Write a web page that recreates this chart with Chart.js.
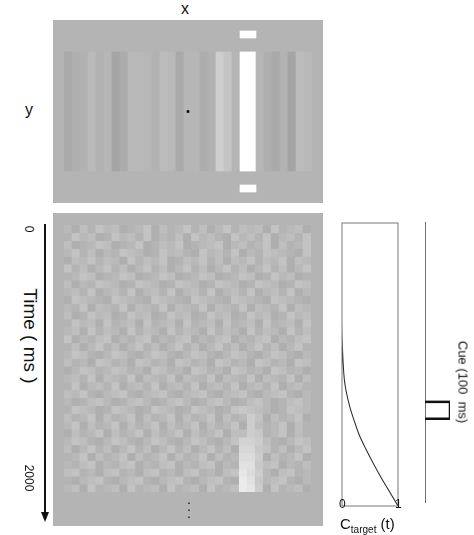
<!DOCTYPE html>
<html><head><meta charset="utf-8">
<script src="https://cdn.jsdelivr.net/npm/chart.js@4"></script>
<style>
body{margin:0;width:474px;height:535px;background:#fff;position:relative;overflow:hidden;font-family:"Liberation Sans",Arial,sans-serif;color:#111}
canvas{position:absolute}
.t{position:absolute;white-space:nowrap}
.rot{transform:translate(-50%,-50%) rotate(90deg)}
</style></head><body>
<canvas id="top" style="left:53px;top:20px;width:270px;height:183px"></canvas>
<canvas id="noise" style="left:53px;top:213px;width:270px;height:313px"></canvas>
<canvas id="curve" style="left:320px;top:213px;width:100px;height:325px"></canvas>
<canvas id="cue" style="left:410px;top:213px;width:50px;height:325px"></canvas>
<div class="t" style="left:181px;top:0;font-size:16px">x</div>
<div class="t" style="left:25px;top:101px;font-size:16px">y</div>
<div class="t" style="left:187px;top:496px;font-size:14px;line-height:7px">.<br>.<br>.</div>
<div class="t rot" style="left:29px;top:229px;font-size:12px">0</div>
<div class="t rot" style="left:29px;top:478px;font-size:12px">2000</div>
<div class="t rot" style="left:30px;top:336px;font-size:19px">Time ( ms )</div>
<div style="position:absolute;left:44px;top:224px;width:1.5px;height:290px;background:#111"></div>
<div style="position:absolute;left:41px;top:512px;width:0;height:0;border-left:4px solid transparent;border-right:4px solid transparent;border-top:10px solid #111"></div>
<div class="t" style="left:339px;top:497px;font-size:12px">0</div>
<div class="t" style="left:395px;top:497px;font-size:12px">1</div>
<div class="t" style="left:340px;top:515px;font-size:15px">C<sub style="font-size:10px">target</sub> (t)</div>
<div class="t rot" style="left:463px;top:382px;font-size:13px">Cue (100&nbsp; ms)</div>
<script>
// top panel: grey level of each vertical stripe (31 stripes), white = target
const stripeGray = [170,175,178,186,178,182,165,172,185,185,183,178,188,185,170,182,183,172,178,206,196,181,255,255,182,175,170,178,165,188,185];
const tabStripes = [22, 23];
const dotStripe = 15;

// noise panel: one hex digit per cell, 31 columns x 34 rows (top = 0 ms)
const noiseRows = [
"5364756345736457463574656374563",
"4756347564735463756437564735647",
"6345763457346573456735645736457",
"5746354765347564375647354765437",
"3657465374657346574636574657365",
"7463574635746357463574635746357",
"4576345763457634576345763475634",
"6354765347653476534765347653476",
"5647356473564735647356473564735",
"3765437654376543765437654376543",
"5473654736547365473654736547365",
"6347563475634756347563475634756",
"4756374563745637456374563745637",
"5637465374653746537465374653746",
"7354673546735467354673546735467",
"4635746357463574635746357463574",
"5764357643576435764357643576435",
"6453764537645376453764537645376",
"3576457645376453764537645376453",
"5647365473654736547365473654736",
"4735647356473564735647356473564",
"6574356743567435674356743567435",
"5346753467534675346753467534675",
"4765347653476534765347876534765",
"6457364573645736457364597364573",
"5736457364573645736457396457364",
"3645736457364573645736698457364",
"5764357643576435764357aa9643576",
"6357463574635746357463bb8746357",
"4573645736457364573645cc9364573",
"5467354673546735467354dd8673546",
"6745367453674536745367ec9536745",
"4356743567435674356743fd8567435",
"5637456374563745637456fe9374563"];

// curve: C_target(t) vs time (ms)
const curveT = [0, 700, 900, 1100, 1200, 1300, 1400, 1500, 1600, 1700, 1800, 1900, 2000];
const curveC = [0, 0, 0.01, 0.04, 0.08, 0.14, 0.22, 0.31, 0.43, 0.56, 0.70, 0.85, 1.0];

// cue: on between these times
const cueOn = 1280, cueOff = 1400;

const g = v => `rgb(${v},${v},${v})`;
const nStripes = 31;
const stripeLabels = Array.from({length: nStripes}, (_, i) => i);

const hideScales = (x, y) => ({ x: Object.assign({ display: false }, x), y: Object.assign({ display: false }, y) });
const common = {
    responsive: false, animation: false, devicePixelRatio: 2,
    plugins: { legend: { display: false }, tooltip: { enabled: false } }
};

const sizeCanvas = (id) => {
    const c = document.getElementById(id);
    c.width = parseInt(c.style.width); c.height = parseInt(c.style.height);
    return c;
};
const greyBg = { id: 'bg', beforeDraw: c => { const x = c.ctx; x.fillStyle = '#b4b4b4'; x.fillRect(0, 0, c.width, c.height); } };

// top stimulus panel
new Chart(sizeCanvas('top'), {
    data: {
        labels: stripeLabels,
        datasets: [
            { type: 'scatter', data: [{ x: dotStripe, y: 5 }], pointStyle: 'rect', pointRadius: 1.8, backgroundColor: '#000', borderWidth: 0, order: -1 },
            { type: 'bar', data: stripeLabels.map(() => [1.6, 8.4]), backgroundColor: stripeGray.map(g), categoryPercentage: 1, barPercentage: 1, grouped: false },
            { type: 'bar', data: stripeLabels.map(i => tabStripes.includes(i) ? [0.4, 0.8] : null), backgroundColor: '#fff', categoryPercentage: 1, barPercentage: 1, grouped: false },
            { type: 'bar', data: stripeLabels.map(i => tabStripes.includes(i) ? [9.2, 9.6] : null), backgroundColor: '#fff', categoryPercentage: 1, barPercentage: 1, grouped: false }
        ]
    },
    options: Object.assign({}, common, {
        layout: { padding: { left: 11, right: 11, top: 0, bottom: 0 } },
        scales: hideScales({ type: 'category', offset: true }, { min: 0, max: 10, reverse: true })
    }),
    plugins: [greyBg]
});

// noise panel as stacked bars, one dataset per row
const nRows = noiseRows.length;
new Chart(sizeCanvas('noise'), {
    type: 'bar',
    data: {
        labels: stripeLabels,
        datasets: noiseRows.map(row => ({
            data: stripeLabels.map(() => 1),
            backgroundColor: stripeLabels.map(i => g(Math.min(240, 160 + parseInt(row[i] || '5', 16) * 5))),
            categoryPercentage: 1, barPercentage: 1
        }))
    },
    options: Object.assign({}, common, {
        layout: { padding: { left: 11, right: 12, top: 12, bottom: 34 } },
        scales: hideScales({ stacked: true }, { stacked: true, min: 0, max: nRows, reverse: true })
    }),
    plugins: [greyBg]
});

// C_target curve
new Chart(sizeCanvas('curve'), {
    type: 'line',
    data: { datasets: [{ data: curveT.map((t, i) => ({ x: curveC[i], y: t })), borderColor: '#222', borderWidth: 1, pointRadius: 0, tension: 0.3 }] },
    options: Object.assign({}, common, {
        layout: { padding: { left: 22, right: 22, top: 10, bottom: 32 } },
        scales: hideScales({ type: 'linear', min: 0, max: 1 }, { type: 'linear', min: 0, max: 2000, reverse: true })
    }),
    plugins: [{ id: 'box', afterDraw: c => { const a = c.chartArea, x = c.ctx; x.strokeStyle = '#777'; x.lineWidth = 1; x.strokeRect(a.left, a.top, a.right - a.left, a.bottom - a.top); } }]
});

// cue trace
new Chart(sizeCanvas('cue'), {
    type: 'line',
    data: { datasets: [
        { data: [{ x: 0, y: 0 }, { x: 0, y: 2000 }], borderColor: '#222', borderWidth: 1.3, pointRadius: 0 },
        { data: [{ x: 0, y: cueOn }, { x: 1, y: cueOn }, { x: 1, y: cueOff }, { x: 0, y: cueOff }], borderColor: '#111', borderWidth: 2.5, pointRadius: 0 }
    ] },
    options: Object.assign({}, common, {
        layout: { padding: { left: 15, right: 10, top: 9, bottom: 35 } },
        scales: hideScales({ type: 'linear', min: 0, max: 1 }, { type: 'linear', min: 0, max: 2000, reverse: true })
    })
});
</script>
</body></html>
